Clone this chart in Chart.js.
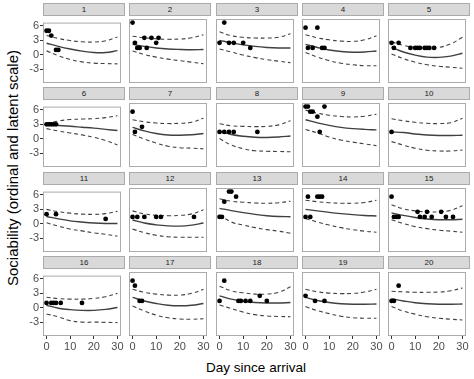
<!DOCTYPE html>
<html>
<head>
<meta charset="utf-8">
<script src="https://cdn.jsdelivr.net/npm/chart.js@4"></script>
<style>
  body { margin: 0; background: #fff; width: 474px; height: 379px; position: relative; overflow: hidden;
         font-family: "Liberation Sans", Arial, sans-serif; }
  canvas { position: absolute; }
  .strip { position: absolute; box-sizing: border-box; background: #d9d9d9; border: 1px solid #ababab;
           font-size: 8px; color: #1a1a1a; text-align: center; line-height: 11px; }
  .ytitle { position: absolute; left: 12px; top: 168px; transform: translate(-50%, -50%) rotate(-90deg);
            white-space: nowrap; font-size: 15px; color: #000; }
  .xtitle { position: absolute; left: 256px; top: 367px; transform: translate(-50%, -50%);
            white-space: nowrap; font-size: 13.5px; color: #000; }
</style>
</head>
<body>
<div class="ytitle">Sociability (ordinal and latent scale)</div>
<div class="xtitle">Day since arrival</div>
<script>
// ------------------------------------------------------------------ DATA
const panelIds = ["1","2","3","4","5","6","7","8","9","10","11","12","13","14","15","16","17","18","19","20"];
const xTicks = [0, 10, 20, 30];
const yTicks = [-3, 0, 3, 6];

// days where the fitted curves were read
const fitDays = [0, 5, 10, 15, 20, 25, 30];

// fitted mean (solid)
const fitMean = [
  [2.4, 1.75, 1.2, 0.75, 0.45, 0.45, 0.85],
  [1.7, 1.3, 1.0, 0.8, 0.7, 0.65, 0.7],
  [2.5, 2.0, 1.6, 1.3, 1.1, 1.0, 1.0],
  [1.7, 1.1, 0.6, 0.3, 0.15, 0.2, 0.4],
  [1.1, 0.2, -0.4, -0.8, -0.85, -0.6, -0.05],
  [2.9, 2.75, 2.6, 2.4, 2.2, 1.95, 1.7],
  [1.9, 1.2, 0.7, 0.4, 0.35, 0.45, 0.7],
  [1.1, 0.5, 0.15, -0.05, -0.1, 0.0, 0.2],
  [3.4, 2.8, 2.3, 1.9, 1.65, 1.5, 1.4],
  [1.0, 0.9, 0.6, 0.4, 0.3, 0.3, 0.35],
  [1.5, 1.0, 0.6, 0.35, 0.15, 0.05, 0.05],
  [0.4, -0.2, -0.55, -0.75, -0.8, -0.6, -0.2],
  [2.7, 2.25, 1.85, 1.5, 1.25, 1.1, 1.05],
  [2.5, 2.2, 1.9, 1.65, 1.45, 1.3, 1.2],
  [1.8, 1.3, 0.9, 0.6, 0.45, 0.45, 0.55],
  [0.5, -0.1, -0.4, -0.55, -0.55, -0.35, 0.05],
  [1.7, 1.0, 0.5, 0.15, 0.05, 0.15, 0.5],
  [2.0, 1.35, 0.95, 0.7, 0.6, 0.6, 0.7],
  [1.7, 1.1, 0.7, 0.45, 0.35, 0.35, 0.4],
  [1.4, 1.0, 0.65, 0.45, 0.35, 0.35, 0.4]
];

// upper band (dashed)
const fitUpper = [
  [4.0, 3.4, 2.95, 2.7, 2.65, 2.9, 3.7],
  [3.3, 3.0, 2.8, 2.7, 2.75, 3.0, 3.6],
  [4.2, 3.4, 3.1, 2.95, 2.95, 3.1, 3.8],
  [3.6, 3.0, 2.6, 2.35, 2.3, 2.6, 3.4],
  [2.2, 1.5, 1.1, 1.0, 1.1, 1.8, 3.1],
  [3.2, 3.7, 4.0, 4.1, 4.2, 4.4, 4.8],
  [3.4, 3.0, 2.75, 2.65, 2.7, 2.9, 3.7],
  [2.6, 2.2, 2.1, 2.05, 2.1, 2.4, 3.2],
  [5.3, 4.7, 4.3, 4.05, 3.95, 4.1, 4.5],
  [3.6, 3.2, 2.9, 2.7, 2.65, 2.8, 3.7],
  [3.0, 2.5, 2.2, 2.0, 1.95, 2.1, 2.6],
  [2.2, 1.6, 1.35, 1.25, 1.3, 1.6, 2.4],
  [4.6, 4.1, 3.9, 3.75, 3.7, 3.8, 4.1],
  [4.3, 4.0, 3.8, 3.7, 3.7, 3.85, 4.3],
  [3.4, 2.6, 2.2, 2.0, 2.0, 2.3, 3.2],
  [2.2, 1.9, 1.8, 1.8, 1.95, 2.3, 3.0],
  [3.3, 2.7, 2.35, 2.15, 2.15, 2.5, 3.3],
  [3.9, 3.0, 2.6, 2.35, 2.35, 2.7, 3.8],
  [3.3, 2.8, 2.55, 2.45, 2.5, 2.75, 3.3],
  [2.9, 2.8, 2.7, 2.7, 2.75, 3.0, 3.55]
];

// lower band (dashed)
const fitLower = [
  [0.8, -0.2, -1.0, -1.5, -1.75, -1.85, -1.9],
  [0.4, -0.3, -0.8, -1.2, -1.5, -1.8, -2.1],
  [0.8, 0.2, -0.4, -0.9, -1.3, -1.6, -1.9],
  [0.1, -0.8, -1.5, -2.0, -2.3, -2.5, -2.5],
  [-0.2, -1.1, -1.8, -2.3, -2.6, -2.8, -3.0],
  [2.1, 1.6, 1.2, 0.8, 0.3, -0.4, -1.3],
  [0.5, -0.4, -1.2, -1.8, -2.1, -2.2, -2.3],
  [-0.3, -1.6, -2.3, -2.7, -2.8, -2.85, -2.9],
  [1.5, 0.8, 0.0, -0.6, -1.0, -1.35, -1.7],
  [-0.9, -1.6, -2.2, -2.6, -2.75, -2.75, -2.55],
  [0.2, -0.5, -1.1, -1.5, -1.9, -2.2, -2.6],
  [-1.4, -2.1, -2.6, -2.9, -3.0, -3.0, -3.0],
  [1.4, 0.0, -0.6, -1.1, -1.5, -1.8, -2.2],
  [0.7, 0.0, -0.6, -1.1, -1.5, -1.8, -2.0],
  [0.45, -0.3, -0.9, -1.3, -1.6, -1.8, -2.0],
  [-1.3, -1.9, -2.7, -3.0, -3.0, -3.05, -3.1],
  [0.0, -1.0, -1.8, -2.3, -2.55, -2.6, -2.5],
  [0.2, -0.5, -1.2, -1.7, -1.95, -2.05, -2.1],
  [-0.1, -0.9, -1.5, -2.0, -2.3, -2.4, -2.4],
  [-0.1, -1.0, -1.6, -2.1, -2.4, -2.6, -2.75]
];

// observed scores (points)
const obsDay = [
  [0, 1, 2, 4, 5],
  [0, 1, 2, 3, 5, 6, 8, 10, 11],
  [0, 2, 4, 6, 10, 13],
  [0, 5, 1, 3, 7, 8],
  [0, 3, 1, 8, 10, 11, 12, 14, 15, 16, 18],
  [0, 1, 2, 3, 4],
  [0, 4, 1],
  [0, 2, 4, 6, 16],
  [0, 1, 2, 3, 5, 8, 6],
  [0],
  [0, 4, 25],
  [0, 2, 5, 10, 12, 26],
  [0, 1, 2, 4, 5, 7],
  [1, 5, 6, 7, 0, 2],
  [0, 1, 2, 3, 11, 12, 14, 15, 17, 21, 23, 26],
  [0, 2, 3, 4, 6, 15],
  [0, 1, 3, 4],
  [0, 2, 8, 9, 11, 13, 17, 20],
  [0, 4, 8],
  [0, 1, 3]
];
const obsScore = [
  [5, 5, 4, 1, 1],
  [6, 2, 1, 1, 3, 1, 3, 2, 3],
  [2, 6, 2, 2, 2, 1],
  [5, 5, 1, 1, 1, 1],
  [2, 2, 1, 1, 1, 1, 1, 1, 1, 1, 1],
  [3, 3, 3, 3, 3],
  [5, 2, 1],
  [1, 1, 1, 1, 1],
  [6, 6, 5, 5, 4, 6, 1],
  [1],
  [2, 2, 1],
  [1, 1, 1, 1, 1, 1],
  [1, 1, 4, 6, 6, 5],
  [5, 5, 5, 5, 1, 1],
  [5, 1, 1, 1, 2, 1, 1, 2, 1, 2, 1, 1],
  [1, 1, 1, 1, 1, 1],
  [5, 4, 1, 1],
  [1, 5, 1, 1, 1, 1, 2, 1],
  [2, 1, 1],
  [1, 1, 4]
];

// ------------------------------------------------------------------ LAYOUT
const nCols = 5;
const colLeft0 = 43, colStep = 86.3, panelW = 82;
const rowTop0 = 15, rowStep = 84.3, panelH = 68;
const stripH = 12;
const leftPad = 28, bottomPad = 18;

const toXY = (xs, ys) => xs.map((x, i) => ({ x: x, y: ys[i] }));

// draws the grey frame round each panel
const framePlugin = {
  id: "frame",
  afterDraw(chart) {
    const { ctx, chartArea: a } = chart;
    ctx.save();
    ctx.strokeStyle = "#ababab";
    ctx.lineWidth = 1;
    ctx.strokeRect(a.left + 0.5, a.top + 0.5, a.right - a.left - 1, a.bottom - a.top - 1);
    ctx.restore();
  }
};

function makePanel(i) {
  const col = i % nCols;
  const row = Math.floor(i / nCols);
  const left = Math.round(colLeft0 + col * colStep);
  const top = Math.round(rowTop0 + row * rowStep);
  const showY = col === 0;
  const showX = row === 3;

  const strip = document.createElement("div");
  strip.className = "strip";
  strip.style.left = left + "px";
  strip.style.top = (top - stripH) + "px";
  strip.style.width = panelW + "px";
  strip.style.height = (stripH + 1) + "px";
  strip.textContent = panelIds[i];
  document.body.appendChild(strip);

  const canvas = document.createElement("canvas");
  canvas.width = panelW + leftPad;
  canvas.height = panelH + bottomPad;
  canvas.style.left = (left - leftPad) + "px";
  canvas.style.top = top + "px";
  document.body.appendChild(canvas);

  const lineStyle = { showLine: true, pointRadius: 0, tension: 0.4, borderColor: "#404040", fill: false };

  new Chart(canvas, {
    type: "scatter",
    data: {
      datasets: [
        { data: toXY(obsDay[i], obsScore[i]), pointRadius: 2.4, backgroundColor: "#000", borderWidth: 0 },
        Object.assign({ data: toXY(fitDays, fitMean[i]), borderWidth: 1.4 }, lineStyle),
        Object.assign({ data: toXY(fitDays, fitUpper[i]), borderWidth: 1.1, borderDash: [4, 3] }, lineStyle),
        Object.assign({ data: toXY(fitDays, fitLower[i]), borderWidth: 1.1, borderDash: [4, 3] }, lineStyle)
      ]
    },
    options: {
      responsive: false,
      animation: false,
      devicePixelRatio: 1,
      layout: { padding: 0 },
      plugins: { legend: { display: false }, tooltip: { enabled: false } },
      scales: {
        x: {
          min: -1.5, max: 31.5,
          afterBuildTicks: s => { s.ticks = xTicks.map(v => ({ value: v })); },
          afterFit: s => { s.height = bottomPad; },
          border: { display: false },
          grid: { display: showX, drawOnChartArea: false, tickLength: 3, tickColor: "#333" },
          ticks: { display: showX, padding: 1, maxRotation: 0, color: "#4d4d4d",
                   font: { family: "Liberation Sans", size: 11 } }
        },
        y: {
          min: -5.9, max: 6.7,
          afterBuildTicks: s => { s.ticks = yTicks.map(v => ({ value: v })); },
          afterFit: s => { s.width = leftPad; },
          border: { display: false },
          grid: { display: showY, drawOnChartArea: false, tickLength: 3, tickColor: "#333" },
          ticks: { display: showY, padding: 1, color: "#4d4d4d",
                   font: { family: "Liberation Sans", size: 11 } }
        }
      }
    },
    plugins: [framePlugin]
  });
}

for (let i = 0; i < panelIds.length; i++) {
  makePanel(i);
}
</script>
</body>
</html>
